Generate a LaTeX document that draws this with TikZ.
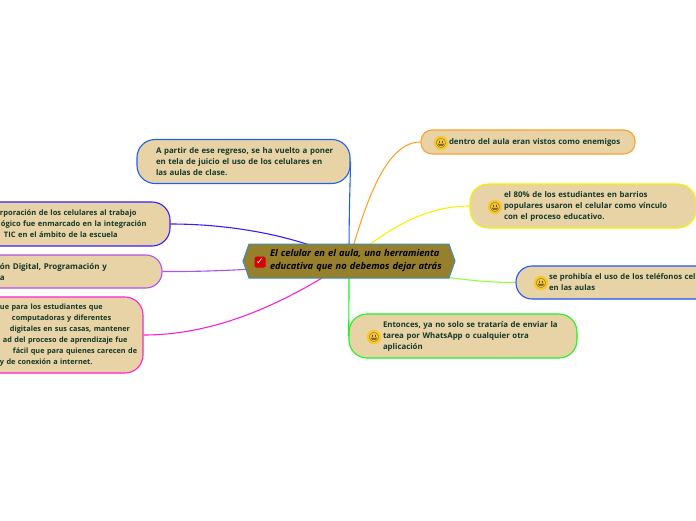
\documentclass[tikz,border=0pt]{standalone}
\usepackage{fontspec}
\setmainfont{Open Sans}
\newfontfamily\emojifont{Noto Emoji}
\newfontfamily\symbolfont{DejaVu Sans}
\usetikzlibrary{shapes.symbols,backgrounds}
\definecolor{boxfill}{HTML}{E8D3A6}
\definecolor{hubfill}{HTML}{96802C}
\definecolor{hubline}{HTML}{3A8EC0}
\definecolor{inktext}{HTML}{143828}
\definecolor{lineregreso}{HTML}{2060F0}
\definecolor{linetrabajo}{HTML}{3A1CFF}
\definecolor{linedigital}{HTML}{B050F0}
\definecolor{lineequipos}{HTML}{FF20D0}
\definecolor{lineenemigos}{HTML}{FFA030}
\definecolor{linebarrios}{HTML}{F4F400}
\definecolor{linetelefonos}{HTML}{2055FF}
\definecolor{linewhatsapp}{HTML}{20F020}
\definecolor{linegreen}{HTML}{90FF40}
\definecolor{facefill}{HTML}{F8C830}
\tikzset{
    leaf/.style n args={3}{draw=#3, line width=1.1pt, fill=boxfill, rounded corners=18pt, inner sep=0pt,
        text width=#1, minimum height=#2, align=left, text=inktext,
        font=\fontsize{7.85}{11}\selectfont\bfseries},
    pad/.style={execute at begin node={\leftskip=#1pt}},
    smiley/.style={circle, fill=facefill, inner sep=0pt, minimum size=11pt,
        text=black!80, font=\emojifont\fontsize{9}{9}\selectfont},
    link/.style={line width=1.1pt}
}
\begin{document}
\begin{tikzpicture}[x=1pt,y=-1pt]
            \useasboundingbox (0,0) rectangle (696,520);
            \clip (0,0) rectangle (696,520);

            \node[signal, signal to=west and east, signal pointer angle=141, draw=hubline, line width=1pt, fill=hubfill,
                inner sep=0pt, text width=200pt, minimum height=34pt, align=left,
                font=\fontsize{9.3}{13}\selectfont\bfseries\itshape, pad=21] (hub) at (349,261)
                {\mbox{El celular en el aula, una herramienta}\\\mbox{educativa que no debemos dejar atrás}};
            \node[fill=red!85!black, rounded corners=1.5pt, inner sep=0pt, minimum size=11pt, text=white,
                font=\symbolfont\bfseries\fontsize{9}{9}\selectfont] (check) at (260,262) {✓};

            \node[leaf={213pt}{44pt}{lineregreso}, pad=19] (regreso) at (243.5,161.5)
                {A partir de ese regreso, se ha vuelto a poner\\en tela de juicio el uso de los celulares en\\las aulas de clase.};
            \node[leaf={270pt}{44pt}{linetrabajo}, font=\fontsize{7.5}{11}\selectfont\bfseries, pad=100] (trabajo) at (35,224)
                {rporación de los celulares al trabajo\\\hspace*{1pt}ógico fue enmarcado en la integración\\\hspace*{4pt}TIC en el ámbito de la escuela};
            \node[leaf={262pt}{33pt}{linedigital}, rounded corners=16pt, font=\fontsize{8}{11}\selectfont\bfseries, pad=100] (digital) at (31,271.5)
                {ón Digital, Programación y\\a};
            \node[leaf={243pt}{76pt}{lineequipos}, font=\fontsize{7.3}{11}\selectfont\bfseries, pad=100] (equipos) at (21.5,335)
                {ue para los estudiantes que\\\hspace*{12pt}computadoras y diferentes\\\hspace*{10pt}digitales en sus casas, mantener\\\hspace*{3pt}ad del proceso de aprendizaje fue\\\hspace*{13pt}\mbox{fácil que para quienes carecen de}\\y de conexión a internet.};

            \node[leaf={214pt}{24pt}{lineenemigos}, rounded corners=11pt, pad=28] (enemigos) at (528,142)
                {dentro del aula eran vistos como enemigos};
            \node[leaf={226pt}{44pt}{linebarrios}, pad=34] (barrios) at (583,206)
                {el 80\% de los estudiantes en barrios\\populares usaron el celular como vínculo\\con el proceso educativo.};
            \node[leaf={280pt}{33pt}{linetelefonos}, rounded corners=16pt, font=\fontsize{7.7}{11}\selectfont\bfseries, pad=33] (telefonos) at (656,282.5)
                {se prohibía el uso de los teléfonos cel\\en las aulas};
            \node[leaf={228pt}{44pt}{linewhatsapp}, pad=34] (whatsapp) at (463,336)
                {Entonces, ya no solo se trataría de enviar la\\tarea por WhatsApp o cualquier otra\\aplicación};

            \node[smiley] (faceA) at (441,143) {😃};
            \node[smiley] (faceB) at (495,207) {😃};
            \node[smiley] (faceC) at (541,283) {😃};
            \node[smiley] (faceD) at (374,337) {😃};

            \begin{scope}[on background layer]
            \draw[link, draw=lineregreso] (hub.center) .. controls (349,210) and (350,190) .. (regreso.east);
            \draw[link, draw=linetrabajo] (hub.center) .. controls (290,232) and (220,224) .. (trabajo.east);
            \draw[link, draw=linedigital] (hub.center) .. controls (280,268) and (220,272) .. (digital.east);
            \draw[link, draw=lineequipos] (hub.center) .. controls (290,300) and (220,335) .. (equipos.east);
            \draw[link, draw=lineenemigos] (hub.center) .. controls (365,205) and (385,142) .. (enemigos.west);
            \draw[link, draw=linebarrios] (hub.center) .. controls (380,235) and (420,206) .. (barrios.west);
            \draw[link, draw=linegreen] (hub.center) .. controls (410,272) and (470,283) .. (telefonos.west);
            \draw[link, draw=linewhatsapp] (hub.center) .. controls (349,290) and (349,320) .. (whatsapp.west);
            \end{scope}
        \end{tikzpicture}
\end{document}
